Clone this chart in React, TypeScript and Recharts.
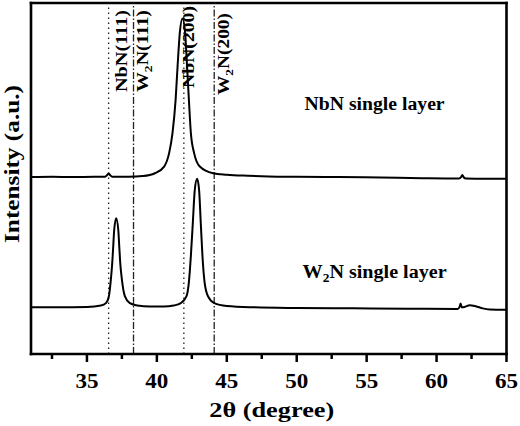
import React from 'react';
import { LineChart, Line, XAxis, YAxis, ReferenceLine, ReferenceDot, Label } from 'recharts';

// 2θ (degree) / intensity (a.u.)
const nbnTheta = [
  31.0, 32.5, 34.0, 35.5, 36.3, 36.45, 36.55, 36.65, 36.8, 38.0, 39.0, 39.86, 40.52, 40.88,
  41.12, 41.34, 41.48, 41.64, 41.83, 42.02, 42.16, 42.29, 42.43, 42.66, 43.07, 44.02, 45.0,
  46.5, 48.0, 50.0, 53.0, 56.0, 59.0, 61.6, 61.75, 61.84, 61.95, 62.1, 63.5, 65.0,
];
const nbnIntensity = [
  50.4, 50.5, 50.4, 50.5, 50.5, 51.0, 51.4, 51.0, 50.5, 50.5, 50.7, 51.5, 53.4, 57.3,
  63.0, 72.4, 81.9, 91.5, 95.6, 91.5, 81.9, 72.4, 63.0, 57.3, 53.4, 51.5, 51.1,
  50.8, 50.6, 50.5, 50.4, 50.3, 50.1, 50.0, 50.4, 51.0, 50.3, 50.0, 49.9, 49.9,
];

const w2nTheta = [
  31.0, 33.0, 35.0, 36.0, 36.36, 36.57, 36.71, 36.81, 36.88, 36.95, 37.09, 37.24, 37.31,
  37.38, 37.5, 37.71, 38.07, 38.6, 39.5, 40.5, 41.2, 41.71, 42.11, 42.29, 42.43, 42.57,
  42.71, 42.88, 43.02, 43.14, 43.26, 43.41, 43.66, 44.11, 45.0, 47.0, 50.0, 54.0, 58.0,
  61.5, 61.65, 61.72, 61.8, 62.0, 62.36, 62.8, 63.3, 63.8, 65.0,
];
const w2nIntensity = [
  13.3, 13.3, 13.4, 13.8, 14.5, 16.5, 21.2, 26.0, 30.7, 35.4, 38.7, 35.4, 30.7,
  26.0, 21.2, 16.5, 14.5, 13.8, 13.5, 13.5, 13.8, 14.5, 16.4, 20.5, 27.9, 37.3,
  46.7, 49.9, 46.7, 37.3, 27.9, 20.5, 16.4, 14.5, 13.7, 13.3, 13.1, 13.0, 12.9,
  12.8, 13.5, 14.4, 13.3, 13.4, 13.9, 13.6, 13.0, 12.7, 12.6,
];

const xTicks = [32.5, 35, 37.5, 40, 42.5, 45, 47.5, 50, 52.5, 55, 57.5, 60, 62.5, 65];
const majorTicks = [35, 40, 45, 50, 55, 60, 65];

// reference peak positions (2θ)
const nbn111 = 36.55;
const w2n111 = 38.33;
const nbn200 = 41.93;
const w2n200 = 44.1;

const nbnData = nbnTheta.map((x, i) => ({ x, y: nbnIntensity[i] }));
const w2nData = w2nTheta.map((x, i) => ({ x, y: w2nIntensity[i] }));

const FONT = '"Liberation Serif", "Times New Roman", Times, serif';
const AXIS = { stroke: '#000', strokeWidth: 2.6, strokeLinecap: 'square' as const };

function XTick(props: any) {
  const { x, y, payload } = props;
  const major = majorTicks.includes(payload.value);
  return (
    <g>
      <line x1={x} x2={x} y1={y} y2={y + (major ? 8 : 5)} stroke="#000" strokeWidth={2.5} />
      {major && (
        <text x={x} y={y + 33.5} textAnchor="middle" fontFamily={FONT} fontWeight="bold" fontSize={21} fill="#000" textLength={23} lengthAdjust="spacingAndGlyphs">
          {payload.value}
        </text>
      )}
    </g>
  );
}

function peakLabel(main: string, sub: string | null, rest: string, dx: number, bottom: number) {
  return (props: any) => {
    const vb = props.viewBox || {};
    const x = vb.x + dx;
    const y = vb.y + bottom;
    return (
      <text
        x={x}
        y={y}
        transform={`rotate(-90 ${x} ${y})`}
        fontFamily={FONT}
        fontWeight="bold"
        fontSize={16}
        fill="#000"
        textLength={82}
        lengthAdjust="spacingAndGlyphs"
      >
        <tspan>{main}</tspan>
        {sub && (
          <tspan fontSize={11} dy={4}>
            {sub}
          </tspan>
        )}
        {sub ? <tspan dy={-4}>{rest}</tspan> : null}
      </text>
    );
  };
}

function seriesLabel(main: string, sub: string | null, rest: string, len: number) {
  return (props: any) => {
    const vb = props.viewBox || {};
    const x = vb.x + (vb.width || 0) / 2;
    const y = vb.y + (vb.height || 0) / 2;
    return (
      <text
        x={x}
        y={y}
        textAnchor="middle"
        fontFamily={FONT}
        fontWeight="bold"
        fontSize={18}
        fill="#000"
        textLength={len}
        lengthAdjust="spacingAndGlyphs"
      >
        <tspan>{main}</tspan>
        {sub && (
          <tspan fontSize={12} dy={4}>
            {sub}
          </tspan>
        )}
        <tspan dy={sub ? -4 : 0}>{rest}</tspan>
      </text>
    );
  };
}

export default function App() {
  return (
    <div style={{ position: 'absolute', left: 0, top: 0, width: 520, height: 426, background: '#fff' }}>
      <LineChart width={520} height={426} margin={{ top: 0, right: 0, left: 0, bottom: 0 }}>
        <XAxis
          dataKey="x"
          type="number"
          domain={[31, 65]}
          ticks={xTicks}
          allowDataOverflow
          height={72}
          axisLine={AXIS}
          tickLine={false}
          tickSize={0}
          tickMargin={0}
          tick={<XTick />}
          interval={0}
        >
          <Label
            content={(p: any) => {
              const vb = p.viewBox || {};
              return (
                <text
                  x={vb.x + vb.width / 2 + 3}
                  y={vb.y + 62.7}
                  textAnchor="middle"
                  fontFamily={FONT}
                  fontWeight="bold"
                  fontSize={21}
                  fill="#000"
                  textLength={125}
                  lengthAdjust="spacingAndGlyphs"
                >
                  2θ (degree)
                </text>
              );
            }}
          />
        </XAxis>
        <XAxis xAxisId="top" orientation="top" dataKey="x" type="number" domain={[31, 65]} height={3} tick={false} tickLine={false} axisLine={AXIS} />
        <YAxis type="number" domain={[0, 100]} width={31} tick={false} tickLine={false} axisLine={AXIS}>
          <Label
            content={(p: any) => {
              const vb = p.viewBox || {};
              const x = vb.x + 19;
              const y = vb.y + vb.height / 2 - 14.5;
              return (
                <text
                  x={x}
                  y={y}
                  transform={`rotate(-90 ${x} ${y})`}
                  textAnchor="middle"
                  fontFamily={FONT}
                  fontWeight="bold"
                  fontSize={22}
                  fill="#000"
                  textLength={158}
                  lengthAdjust="spacingAndGlyphs"
                >
                  Intensity (a.u.)
                </text>
              );
            }}
          />
        </YAxis>
        <YAxis yAxisId="right" orientation="right" type="number" domain={[0, 100]} width={13.5} tick={false} tickLine={false} axisLine={AXIS} />

        <ReferenceLine x={nbn111} stroke="#222" strokeWidth={1.3} strokeDasharray="1.5 3.5" label={peakLabel('NbN(111)', null, '', 18.3, 89)} />
        <ReferenceLine x={w2n111} stroke="#222" strokeWidth={1.3} strokeDasharray="7 2 1.5 2" label={peakLabel('W', '2', 'N(111)', 14, 89)} />
        <ReferenceLine x={nbn200} stroke="#222" strokeWidth={1.3} strokeDasharray="1.5 3.5" label={peakLabel('NbN(200)', null, '', 10, 85)} />
        <ReferenceLine x={w2n200} stroke="#222" strokeWidth={1.3} strokeDasharray="7 2 1.5 2" label={peakLabel('W', '2', 'N(200)', 14.7, 92)} />

        <Line data={nbnData} dataKey="y" type="monotone" stroke="#000" strokeWidth={2} dot={false} isAnimationActive={false} />
        <Line data={w2nData} dataKey="y" type="monotone" stroke="#000" strokeWidth={2} dot={false} isAnimationActive={false} />

        <ReferenceDot x={55.57} y={69.5} r={0} fill="none" stroke="none" label={seriesLabel('NbN single layer', null, '', 140)} />
        <ReferenceDot x={55.57} y={21.65} r={0} fill="none" stroke="none" label={seriesLabel('W', '2', 'N single layer', 144)} />
      </LineChart>
    </div>
  );
}
